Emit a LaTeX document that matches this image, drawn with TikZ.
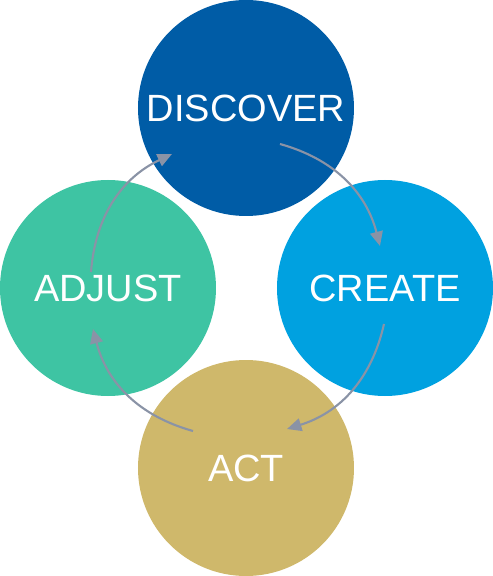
\documentclass[tikz,border=0pt]{standalone}
\usepackage{fontspec}
\setmainfont{Liberation Sans}
\usepackage{xcolor}
\usepackage{tikz}
\usetikzlibrary{arrows.meta}
\definecolor{discoverblue}{HTML}{005CA6}
\definecolor{createblue}{HTML}{00A1E0}
\definecolor{actgold}{HTML}{CFB86B}
\definecolor{adjustgreen}{HTML}{3EC4A3}
\definecolor{loopgray}{HTML}{8A93A6}
\tikzset{
  stagecircle/.style={
    circle,
    draw=none,
    minimum size=5.4cm,
    inner sep=0pt,
    text=white,
    font=\fontsize{27}{32}\selectfont
  },
  cyclearrow/.style={
    -{Triangle[length=3.6mm,width=3.2mm]},
    line width=1.5pt,
    draw=loopgray
  }
}
\begin{document}
\begin{tikzpicture}
    \useasboundingbox (-6.15,-7.2) rectangle (6.175,7.2);

    \node[stagecircle, fill=discoverblue] (discover) at (0,4.5) {DISCOVER};
    \node[stagecircle, fill=createblue] (create) at (3.475,0) {CREATE};
    \node[stagecircle, fill=actgold] (act) at (0,-4.5) {ACT};
    \node[stagecircle, fill=adjustgreen] (adjust) at (-3.45,0) {ADJUST};

    % arrow ends, inside the circles
    \coordinate (discover-out) at ([shift={(0.85,-0.9)}]discover.center);
    \coordinate (create-in) at ([shift={(-0.125,1.05)}]create.center);
    \coordinate (create-out) at ([shift={(-0.025,-0.9)}]create.center);
    \coordinate (act-in) at ([shift={(1.025,0.975)}]act.center);
    \coordinate (act-out) at ([shift={(-1.325,0.925)}]act.center);
    \coordinate (adjust-in) at ([shift={(-0.375,-1.025)}]adjust.center);
    \coordinate (adjust-out) at ([shift={(-0.425,0.4)}]adjust.center);
    \coordinate (discover-in) at ([shift={(-1.85,-1.15)}]discover.center);

    \draw[cyclearrow] (discover-out) to[bend left=30] (create-in);
    \draw[cyclearrow] (create-out) to[bend left=30] (act-in);
    \draw[cyclearrow] (act-out) to[bend left=30] (adjust-in);
    \draw[cyclearrow] (adjust-out) to[bend left=30] (discover-in);
\end{tikzpicture}
\end{document}
